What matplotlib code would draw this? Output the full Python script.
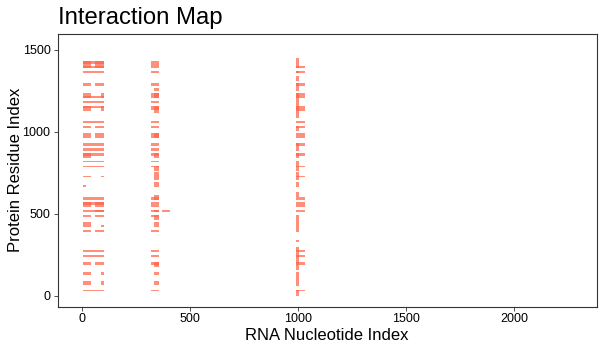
import matplotlib
matplotlib.use("Agg")
import matplotlib.pyplot as plt
import numpy as np

plt.rcParams['font.family'] = ['Liberation Sans', 'DejaVu Sans']

# ---- data: interaction rectangles (RNA nucleotide range x protein residue range)
# column near RNA ~5-106
c1_rna_lo = [5, 60, 5, 5, 5, 5, 60, 5, 92, 5, 5, 5, 5, 92, 5, 5, 60, 5, 60, 5, 5, 5, 5,
             5, 5, 5, 92, 5, 5, 5, 60, 5, 5, 60, 5, 60, 5, 92, 5, 60, 5, 5, 5, 60,
             5, 92, 5, 92, 5]
c1_rna_hi = [46, 106, 106, 106, 106, 46, 106, 46, 106, 106, 106, 106, 46, 106, 106, 46, 106, 46, 106, 106, 106, 106, 46,
             106, 106, 46, 106, 19, 106, 46, 106, 106, 106, 106, 46, 106, 46, 106, 46, 106, 106, 106, 46, 106,
             46, 106, 46, 106, 106]
c1_prot_lo = [1387, 1387, 1415, 1387, 1356, 1276, 1276, 1203, 1203, 1203, 1172, 1142, 1124, 1124, 1050, 1020, 1020, 959, 959, 911, 880, 850, 838,
              813, 783, 722, 722, 661, 582, 540, 540, 552, 509, 509, 479, 479, 418, 418, 388, 388, 266, 235, 187, 187,
              126, 126, 65, 65, 29]
c1_prot_hi = [1428, 1428, 1428, 1397, 1367, 1294, 1294, 1233, 1233, 1215, 1184, 1154, 1154, 1154, 1063, 1032, 1032, 990, 990, 929, 898, 868, 868,
              819, 789, 728, 728, 673, 600, 570, 570, 570, 521, 521, 491, 491, 448, 430, 400, 400, 278, 248, 205, 205,
              144, 144, 89, 89, 35]

# column near RNA ~319-407
c2_rna_lo = [319, 319, 319, 333, 319, 333, 319, 319, 333, 319, 319, 319, 333, 319, 319, 319, 333,
             319, 319, 333, 333, 333, 319, 333, 319, 319, 333, 374, 319, 333, 333, 319, 319, 319,
             319, 333, 333, 333, 319]
c2_rna_hi = [360, 360, 360, 360, 360, 360, 360, 360, 360, 360, 360, 360, 360, 360, 360, 360, 360,
             360, 360, 360, 360, 360, 360, 360, 360, 360, 360, 407, 360, 360, 360, 360, 360, 360,
             360, 360, 360, 360, 360]
c2_prot_lo = [1387, 1356, 1276, 1245, 1203, 1203, 1172, 1130, 1111, 1050, 1020, 959, 959, 911, 880, 850, 838,
              813, 783, 759, 704, 661, 582, 582, 540, 509, 509, 509, 479, 461, 418, 388, 266, 235,
              187, 175, 126, 65, 29]
c2_prot_hi = [1428, 1367, 1294, 1263, 1233, 1233, 1184, 1154, 1154, 1063, 1032, 990, 990, 929, 898, 868, 868,
              819, 789, 789, 752, 692, 600, 612, 570, 521, 521, 521, 491, 491, 448, 400, 278, 248,
              205, 205, 144, 89, 35]

# column near RNA ~989-1035
c3_rna_lo = [989, 989, 989, 989, 989, 989, 989, 989, 989, 989, 989, 989, 989, 989, 989, 989, 989,
             989, 989, 989, 989, 989, 989, 989, 989, 989, 989, 989, 989, 989, 989, 989, 989, 989, 989, 989]
c3_rna_hi = [1003, 1035, 1035, 1003, 1003, 1035, 1003, 1035, 1003, 1035, 1035, 1035, 1003, 1035, 1035, 1003,
             1035, 1003, 1003, 1035, 1003, 1035, 1003, 1003, 1035, 1035, 1035, 1003, 1003, 1003, 1035,
             1035, 1035, 1003, 1003, 1035]
c3_prot_lo = [1385, 1385, 1356, 1356, 1306, 1276, 1245, 1203, 1081, 1124, 1050, 1020, 1002, 959, 911, 880,
              850, 838, 759, 783, 704, 722, 661, 600, 582, 540, 509, 388, 327, 156, 266,
              235, 187, 59, -5, 29]
c3_prot_hi = [1446, 1397, 1367, 1367, 1336, 1294, 1294, 1233, 1233, 1154, 1063, 1032, 1032, 990, 929, 929,
              868, 868, 819, 789, 752, 728, 692, 631, 600, 570, 521, 491, 339, 296, 278,
              248, 205, 144, 35, 35]

title = "Interaction Map"
xlabel = "RNA Nucleotide Index"
ylabel = "Protein Residue Index"
xticks = [0, 500, 1000, 1500, 2000]
yticks = [0, 500, 1000, 1500]

fig = plt.figure(figsize=(6, 3.5), dpi=100)
ax = fig.add_axes([57.5 / 600, 1 - 306.5 / 350, (596.5 - 57.5) / 600, (306.5 - 33.5) / 350])

fill = "#FF6347"
for lo, hi, plo, phi in [(c1_rna_lo, c1_rna_hi, c1_prot_lo, c1_prot_hi),
                         (c2_rna_lo, c2_rna_hi, c2_prot_lo, c2_prot_hi),
                         (c3_rna_lo, c3_rna_hi, c3_prot_lo, c3_prot_hi)]:
    lo = np.array(lo); hi = np.array(hi); plo = np.array(plo); phi = np.array(phi)
    ax.bar(lo, phi - plo, width=hi - lo, bottom=plo, align='edge',
           color=fill, alpha=0.72, linewidth=0)

ax.set_xlim(-111, 2380)
ax.set_ylim(-67, 1598)
ax.set_xticks(xticks)
ax.set_yticks(yticks)
ax.tick_params(axis='both', labelsize=9, length=3, width=0.6, pad=2,
               colors='#333333', labelcolor='black')
for s in ax.spines.values():
    s.set_linewidth(0.8)
    s.set_color('#333333')

ax.set_xlabel(xlabel, fontsize=12, labelpad=2)
ax.set_ylabel(ylabel, fontsize=12)
ax.yaxis.set_label_coords((23 - 57.5) / 539, 0.5)
fig.text(57.5 / 600, 1 - 24 / 350, title, fontsize=17.2, ha='left', va='baseline')

fig.savefig("out.png", dpi=100)
